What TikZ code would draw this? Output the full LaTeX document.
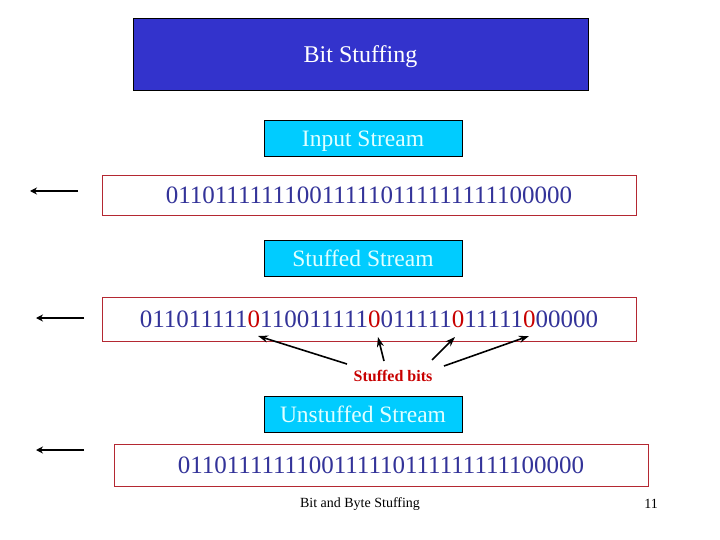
\documentclass[tikz,border=0pt]{standalone}
\usepackage{fontspec}
\setmainfont{Liberation Serif}
\usetikzlibrary{arrows.meta}
\definecolor{titleblue}{RGB}{51,51,204}
\definecolor{boxcyan}{RGB}{0,204,255}
\definecolor{lblcyan}{RGB}{224,255,255}
\definecolor{digitblue}{RGB}{51,51,153}
\definecolor{rowred}{RGB}{180,40,50}
\definecolor{stuffred}{RGB}{200,0,0}
\tikzset{
  titlebox/.style={draw=black, line width=0.8pt, fill=titleblue, text=white, minimum width=455pt, minimum height=72pt, inner sep=0pt, font=\fontsize{24}{28}\selectfont},
  labelbox/.style={draw=black, line width=0.8pt, fill=boxcyan, text=lblcyan, minimum width=198pt, minimum height=36pt, inner sep=0pt, font=\fontsize{23.5}{28}\selectfont},
  rowbox/.style={draw=rowred, line width=0.8pt, text=digitblue, minimum width=534pt, inner sep=0pt, font=\fontsize{25}{29}\selectfont},
  leftarrow/.style={line width=1.6pt, -{Stealth[length=7pt,width=7pt]}},
  bitarrow/.style={line width=1.6pt, -{Stealth[length=10pt,width=7pt]}},
  footer/.style={inner sep=0pt, font=\fontsize{14}{16}\selectfont}
}
\newcommand{\rz}{\textcolor{stuffred}{0}}
\newcommand{\lowtxt}[1]{\raisebox{-8.5pt}[0pt][0pt]{#1}}
\begin{document}
\begin{tikzpicture}[x=1pt,y=-1pt]
\useasboundingbox (0,0) rectangle (720,540);
\fill[white] (0,0) rectangle (720,540);
\node[titlebox] (title) at (360.5,54) {\lowtxt{Bit Stuffing}};
\node[labelbox] (input) at (363,138.5) {\lowtxt{Input Stream}};
\node[rowbox, minimum height=40pt] (row1) at (369,195) {0110111111100111110111111111100000};
\node[labelbox] (stuffed) at (363,258) {\lowtxt{Stuffed Stream}};
\node[rowbox, minimum height=44pt] (row2) at (369,319.5) {011011111\rz110011111\rz011111\rz11111\rz00000};
\node[inner sep=0pt, text=stuffred, font=\bfseries\fontsize{16}{18}\selectfont] (sb) at (393,376) {Stuffed bits};
\node[labelbox] (unstuffed) at (363,414) {\lowtxt{Unstuffed Stream}};
\node[rowbox, minimum height=42pt] (row3) at (381,465) {0110111111100111110111111111100000};
\node[footer] (foot) at (360,504) {Bit and Byte Stuffing};
\node[footer] (page) at (651,504) {11};
% left arrows
\coordinate (a1s) at (78,191); \coordinate (a1e) at (30,191);
\coordinate (a2s) at (84,318); \coordinate (a2e) at (36,318);
\coordinate (a3s) at (84,450); \coordinate (a3e) at (36,450);
\draw[leftarrow] (a1s) -- (a1e);
\draw[leftarrow] (a2s) -- (a2e);
\draw[leftarrow] (a3s) -- (a3e);
% stuffed bit arrows
\coordinate (s1) at (347,364); \coordinate (z1) at (258,336);
\coordinate (s2) at (384,361); \coordinate (z2) at (378,337);
\coordinate (s3) at (432,360); \coordinate (z3) at (455,337);
\coordinate (s4) at (444,366); \coordinate (z4) at (529,336);
\draw[bitarrow] (s1) -- (z1);
\draw[bitarrow] (s2) -- (z2);
\draw[bitarrow] (s3) -- (z3);
\draw[bitarrow] (s4) -- (z4);
\end{tikzpicture}
\end{document}
